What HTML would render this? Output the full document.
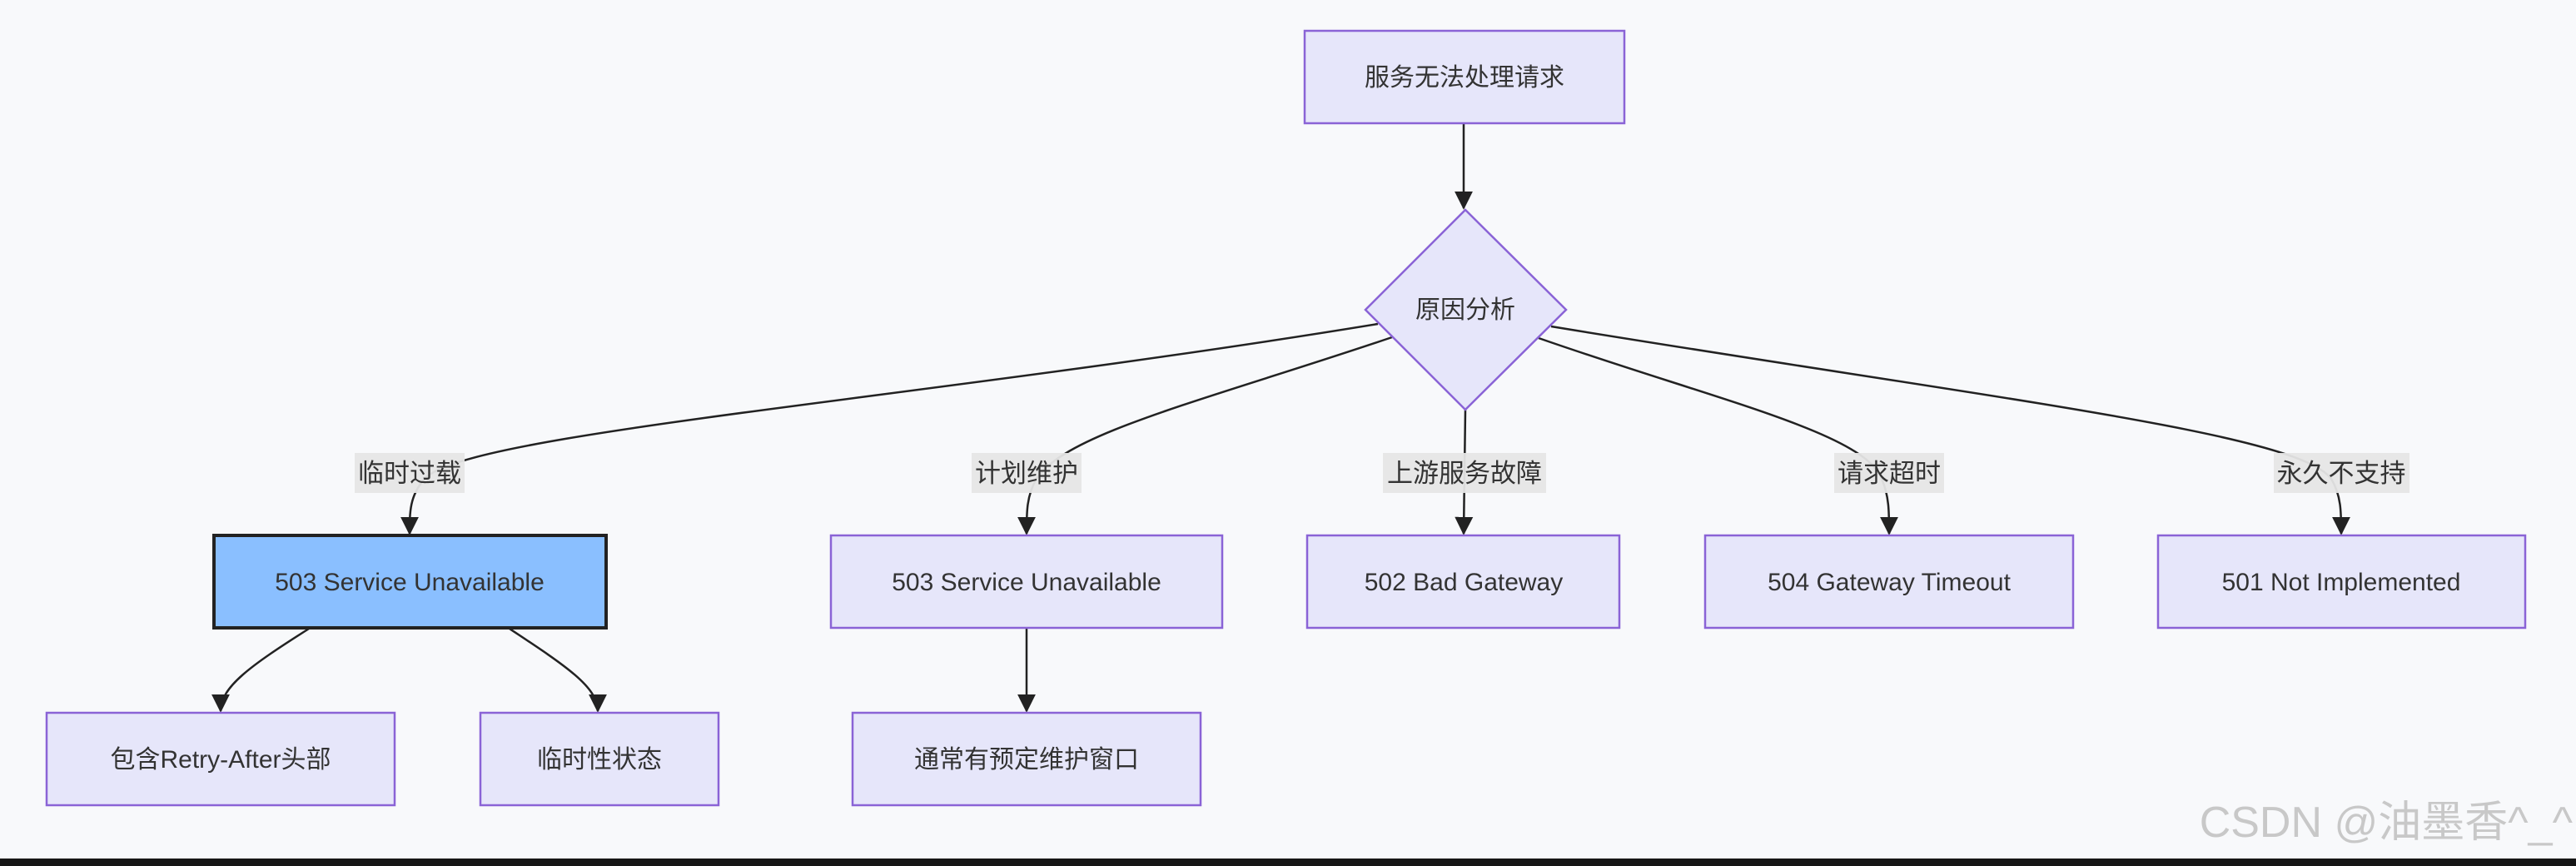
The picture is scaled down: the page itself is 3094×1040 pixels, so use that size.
<!DOCTYPE html>
<html><head><meta charset="utf-8"><style>
html,body{margin:0;padding:0;background:#f8f9fb;}
svg{display:block;}
text{font-family:"Liberation Sans","Noto Sans CJK SC",sans-serif;fill:#333;}
</style></head><body>
<svg width="3094" height="1040" viewBox="0 0 3094 1040" xmlns="http://www.w3.org/2000/svg">
<defs>
<marker id="ar" viewBox="0 0 10 10" refX="9" refY="5" markerWidth="8" markerHeight="8" markerUnits="userSpaceOnUse" orient="auto">
</marker>
<marker id="a" viewBox="0 0 12 12" refX="11" refY="6" markerWidth="22" markerHeight="22" markerUnits="userSpaceOnUse" orient="auto"><path d="M0,0 L12,6 L0,12 z" fill="#222"/></marker>
</defs>
<rect width="3094" height="1040" fill="#f8f9fb"/>
<g fill="none" stroke="#222" stroke-width="2.5">
<path d="M1758,148 L1758,250" marker-end="url(#a)"/>
<path d="M1655,389 C1100,480 560,520 510,575 C492,595 492,615 492,641" marker-end="url(#a)"/>
<path d="M1672,405 C1450,480 1280,520 1245,575 C1233,595 1233,615 1233,641" marker-end="url(#a)"/>
<path d="M1760,492 L1758,641" marker-end="url(#a)"/>
<path d="M1848,406 C2060,480 2240,520 2260,575 C2269,595 2269,615 2269,641" marker-end="url(#a)"/>
<path d="M1863,392 C2400,480 2760,520 2800,575 C2812,595 2812,615 2812,641" marker-end="url(#a)"/>
<path d="M371,755 C300,800 265,825 265,854" marker-end="url(#a)"/>
<path d="M612,755 C680,800 718,825 718,854" marker-end="url(#a)"/>
<path d="M1233,754 L1233,854" marker-end="url(#a)"/>
</g>
<g fill="#e6e6e6" opacity="0.95">
<rect x="426" y="544" width="132" height="48"/>
<rect x="1167" y="544" width="132" height="48"/>
<rect x="1661" y="544" width="196" height="48"/>
<rect x="2203" y="544" width="132" height="48"/>
<rect x="2731" y="544" width="163" height="48"/>
</g>
<g font-size="31" text-anchor="middle">
<text x="492" y="579">临时过载</text>
<text x="1233" y="579">计划维护</text>
<text x="1759" y="579">上游服务故障</text>
<text x="2269" y="579">请求超时</text>
<text x="2812" y="579">永久不支持</text>
</g>
<g fill="#e6e6fa" stroke="#8a63d6" stroke-width="2.5">
<rect x="1567" y="37" width="384" height="111"/>
<polygon points="1760,252 1881,372 1760,492 1640,372"/>
<rect x="998" y="643" width="470" height="111"/>
<rect x="1570" y="643" width="375" height="111"/>
<rect x="2048" y="643" width="442" height="111"/>
<rect x="2592" y="643" width="441" height="111"/>
<rect x="56" y="856" width="418" height="111"/>
<rect x="577" y="856" width="286" height="111"/>
<rect x="1024" y="856" width="418" height="111"/>
</g>
<rect x="257" y="643" width="471" height="111" fill="#8abfff" stroke="#222" stroke-width="4"/>
<g font-size="30" text-anchor="middle">
<text x="1759" y="103">服务无法处理请求</text>
<text x="1760" y="382">原因分析</text>
<text x="492" y="709">503 Service Unavailable</text>
<text x="1233" y="709">503 Service Unavailable</text>
<text x="1758" y="709">502 Bad Gateway</text>
<text x="2269" y="709">504 Gateway Timeout</text>
<text x="2812" y="709">501 Not Implemented</text>
<text x="265" y="922">包含Retry-After头部</text>
<text x="720" y="922">临时性状态</text>
<text x="1233" y="922">通常有预定维护窗口</text>
</g>
<text x="3090" y="1005" font-size="52" text-anchor="end" style="fill:#c8c8c8">CSDN @油墨香^_^</text>
<rect x="0" y="1031" width="3094" height="9" fill="#161616"/>
</svg>
</body></html>
